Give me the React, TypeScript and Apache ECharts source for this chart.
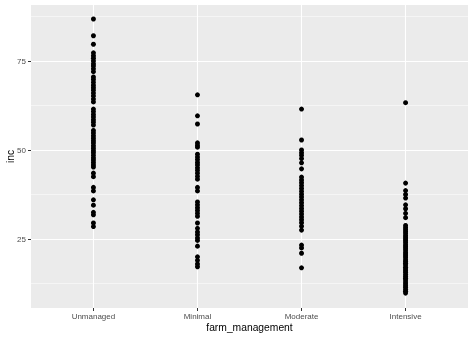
import React, { useEffect, useRef } from "react";
import * as echarts from "echarts";

const categories = ["Unmanaged", "Minimal", "Moderate", "Intensive"];

const unmanaged = [86.8, 82.1, 79.7, 77.3, 76.5, 75.8, 75, 74.2, 73.6, 72.8, 72, 70.5, 69.8, 69, 68.2, 67.5, 66.8, 66, 65.2, 64.3, 63.5, 61.5, 60.8, 60, 59.3, 58.5, 57.8, 57, 55.5, 54.8, 54, 53.3, 52.6, 52, 51.2, 50.5, 49.8, 49.2, 48.5, 47.8, 47.2, 46.5, 45.8, 45.2, 43.5, 42.5, 39.5, 38.5, 36, 34.5, 32.5, 31.8, 29.5, 28.5];
const minimal = [65.5, 59.6, 57.3, 52, 51.3, 50.8, 48.8, 48, 47.3, 46.5, 45.8, 45, 44.3, 43.5, 42.6, 41.8, 39.5, 38.5, 35.4, 34.6, 33.8, 33, 32.2, 31.4, 29.5, 28, 27, 26.2, 25.3, 24.6, 23, 20, 19, 18, 17.2];
const moderate = [61.5, 52.8, 50, 49.2, 48.5, 47.6, 46.4, 44.7, 42.4, 41.6, 40.8, 40, 39.2, 38.4, 37.6, 36.8, 36, 35.2, 34.4, 33.6, 32.8, 32, 31.2, 30.4, 29.6, 28.6, 27.5, 23.3, 22.5, 21, 16.9];
const intensive = [63.3, 40.7, 38.6, 37.5, 36.5, 34.6, 33.5, 32.2, 31, 28.8, 28.2, 27.7, 27.1, 26.6, 26.0, 25.5, 25.0, 24.5, 24.0, 23.4, 22.9, 22.4, 21.9, 21.3, 20.8, 20.3, 19.8, 19.2, 18.7, 18.2, 17.7, 17.1, 16.6, 16.1, 15.6, 15.0, 14.5, 14.0, 13.5, 12.9, 12.4, 11.9, 11.4, 10.8, 10.3, 9.8];

const yMajor = [25, 50, 75];
const yMinor = [12.5, 37.5, 62.5, 87.5];

export default function App() {
  const ref = useRef<HTMLDivElement>(null);
  useEffect(() => {
    if (!ref.current) return;
    const chart = echarts.init(ref.current, null, { renderer: "svg" });
    const groups = [unmanaged, minimal, moderate, intensive];
    const data: number[][] = [];
    groups.forEach((g, i) => g.forEach((v) => data.push([i, v])));
    const yMin = 5.62;
    const yMax = 90.73;
    const textColor = "#4D4D4D";
    chart.setOption({
      animation: false,
      grid: {
        left: 31,
        right: 6,
        top: 5,
        bottom: 30,
        show: true,
        backgroundColor: "#EBEBEB",
        borderWidth: 0,
        containLabel: false,
        outerBoundsMode: "none",
      },
      xAxis: {
        type: "value",
        min: -0.6,
        max: 3.6,
        name: "farm_management",
        nameLocation: "middle",
        nameGap: 14,
        nameMoveOverlap: false,
        nameTextStyle: { color: "#000", fontSize: 10.3, fontFamily: "Liberation Sans" },
        axisLine: { show: false, onZero: false },
        axisTick: { show: true, length: 3, customValues: [0, 1, 2, 3], lineStyle: { color: "#333333", width: 1 } },
        axisLabel: {
          customValues: [0, 1, 2, 3],
          formatter: (v: number) => categories[Math.round(v)],
          color: textColor,
          fontSize: 8,
          fontFamily: "Liberation Sans",
          margin: 4,
        },
        splitLine: { show: true, lineStyle: { color: "#FFFFFF", width: 1.1 } },
      },
      yAxis: [
        {
          type: "value",
          min: yMin,
          max: yMax,
          position: "left",
          name: "inc",
          nameLocation: "middle",
          nameGap: 16,
          nameMoveOverlap: false,
          nameRotate: 90,
          nameTextStyle: { color: "#000", fontSize: 10.3, fontFamily: "Liberation Sans" },
          axisLine: { show: false, onZero: false },
          axisTick: { show: true, length: 3, customValues: yMajor, lineStyle: { color: "#333333", width: 1 } },
          axisLabel: {
            customValues: yMajor,
            color: textColor,
            fontSize: 8,
            fontFamily: "Liberation Sans",
            margin: 5,
          },
          splitLine: { show: true, lineStyle: { color: "#FFFFFF", width: 1.1 } },
        },
        {
          type: "value",
          min: yMin,
          max: yMax,
          position: "left",
          axisLine: { show: false, onZero: false },
          axisTick: { show: false, customValues: yMinor },
          axisLabel: { show: false, customValues: yMinor },
          splitLine: { show: true, lineStyle: { color: "#FFFFFF", width: 0.5 } },
        },
      ],
      series: [
        {
          type: "scatter",
          data,
          symbolSize: 5,
          itemStyle: { color: "#000000", opacity: 1 },
          z: 5,
        },
      ],
    });
    return () => chart.dispose();
  }, []);
  return <div ref={ref} style={{ width: 474, height: 338, position: "fixed", left: 0, top: 0 }} />;
}
